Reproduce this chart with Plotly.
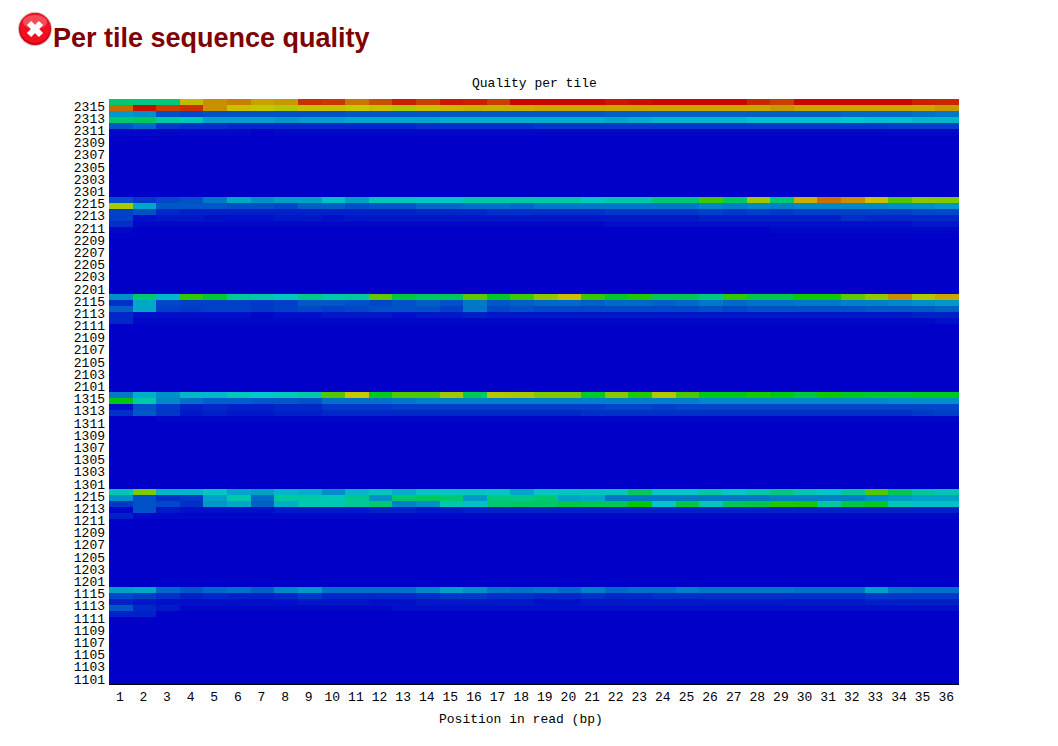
import plotly.graph_objects as go

POSITIONS = list(range(1, 37))
SURFACES = [11, 12, 13, 21, 22, 23]
SWATHS = list(range(1, 17))

T2316 = [36,34,35,77,82,84,80,81,94,93,85,90,96,92,97,96,92,99,99,99,99,97,98,99,99,99,99,95,92,99,99,99,99,99,96,95]
T2315 = [87,98,92,94,82,76,74,72,76,76,75,76,72,76,77,78,78,78,79,79,79,79,79,79,79,79,79,79,81,79,79,79,79,79,79,81]
T2314 = [19,18,10,9,10,10,10,10,10,10,11,11,11,11,11,11,11,11,11,11,11,12,12,12,12,12,12,12,12,12,12,13,13,13,14,15]
T2313 = [36,38,30,27,20,20,20,19,20,20,21,21,21,21,22,22,22,22,22,22,22,21,22,23,23,23,23,24,24,24,24,25,24,24,23,23]
T2312 = [11,13,7,6,6,5,5,5,5,5,5,5,5,6,6,6,6,6,7,7,7,7,7,7,7,7,7,7,7,7,7,7,7,8,8,8]
T2311 = [1,1,1,1,1,1,0,1,1,1,1,1,1,1,1,1,1,1,1,1,1,1,1,1,1,1,1,1,1,1,1,1,1,1,1,1]

T2216 = [10,7,9,10,15,21,18,20,20,24,20,27,27,25,25,30,30,30,30,30,26,29,29,36,36,58,38,70,36,78,86,82,76,60,67,66]
T2215 = [71,21,11,11,11,10,10,9,12,12,10,11,11,13,13,14,14,13,15,15,15,15,15,15,15,17,16,17,16,17,17,17,17,18,18,19]
T2214 = [8,10,5,4,4,4,4,4,4,4,4,4,4,5,5,5,6,6,6,6,6,7,7,7,7,8,7,8,7,8,8,8,8,8,9,9]
T2213 = [8,2,3,3,2,2,2,3,3,2,3,3,3,3,3,3,3,3,3,3,3,3,3,3,3,4,4,4,4,4,4,6,5,5,5,5]
T2212 = [6,1,1,1,1,1,1,1,1,1,1,1,1,1,1,1,1,1,1,1,1,2,2,2,2,2,2,2,2,2,2,2,2,2,3,3]
T2211 = [1,0,0,0,0,0,0,0,0,0,0,0,0,0,0,0,0,0,0,0,0,0,0,0,0,0,0,0,1,1,1,1,1,1,1,1]

T2116 = [18,36,23,56,44,31,29,26,33,29,31,62,42,38,39,62,45,58,68,76,57,45,54,40,40,34,56,41,41,52,52,62,68,82,72,79]
T2115 = [6,21,9,8,8,8,7,8,11,11,10,9,10,12,10,15,11,12,13,13,12,13,13,12,13,15,13,14,14,15,15,16,16,17,18,19]
T2114 = [12,21,8,7,8,8,7,8,9,8,9,10,10,10,8,15,9,10,9,9,9,9,9,9,9,10,9,10,10,10,10,10,11,11,11,12]
T2113 = [5,2,2,2,2,2,1,2,2,3,3,3,2,3,3,4,3,3,3,3,3,3,3,3,3,3,3,3,3,3,3,3,3,3,4,4]
T2112 = [5,1,1,1,1,1,1,1,1,1,1,1,1,1,1,1,1,1,1,1,1,1,1,1,1,1,1,1,1,1,1,1,1,1,1,2]

T1316 = [15,22,18,23,23,27,25,27,29,60,75,46,60,60,70,40,72,71,66,66,45,67,54,72,59,47,47,53,48,42,52,46,44,44,46,46]
T1315 = [48,29,17,14,12,12,11,11,10,14,14,14,15,16,16,16,16,16,16,16,16,16,16,16,16,17,17,17,17,17,17,17,17,18,18,18]
T1314 = [2,10,7,4,5,4,4,5,5,7,7,7,8,8,8,8,8,8,8,8,8,9,9,8,9,9,9,9,9,9,9,9,9,9,9,9]
T1313 = [6,11,7,3,4,3,3,4,4,5,5,5,5,5,5,5,5,5,5,5,6,6,6,6,6,6,6,6,6,6,6,6,6,6,7,8]
T1312 = [0,0,1,1,1,1,1,1,1,1,1,1,1,1,1,1,1,1,1,1,1,1,1,1,1,1,1,1,1,1,1,1,1,1,1,1]

T1216 = [28,66,23,23,26,21,20,23,22,18,23,27,22,26,26,27,26,21,26,27,27,26,38,25,25,30,25,29,34,28,25,31,60,40,31,28]
T1215 = [18,10,6,7,20,28,13,30,29,27,32,18,36,38,36,19,34,33,36,20,21,15,15,15,15,15,15,15,16,16,16,16,18,19,20,20]
T1214 = [7,10,9,6,19,21,12,22,28,28,31,36,16,18,28,24,36,38,37,42,40,40,50,25,42,27,40,42,54,53,30,42,46,28,24,24]
T1213 = [1,10,3,2,2,2,2,3,3,3,3,4,4,3,3,4,4,4,4,4,4,4,4,4,4,4,4,4,4,4,4,4,4,4,4,4]
T1212 = [4,1,1,1,1,1,1,1,1,1,1,1,1,1,1,1,1,1,1,1,1,1,1,1,1,1,1,1,1,1,1,1,1,1,1,1]

T1116 = [20,21,13,11,13,14,12,17,19,14,14,14,14,17,20,18,15,14,15,13,16,13,14,14,16,15,15,15,15,14,14,14,20,15,14,14]
T1115 = [9,8,6,4,5,4,4,5,7,5,5,5,5,6,7,7,6,6,5,5,6,5,5,6,6,6,6,6,6,6,6,6,7,7,7,7]
T1114 = [4,3,2,2,2,2,2,2,3,3,3,2,2,3,3,3,3,3,2,2,3,3,3,3,3,3,3,3,3,3,3,3,4,4,4,4]
T1113 = [11,5,3,1,1,1,1,1,1,1,1,1,2,2,2,2,2,2,2,2,2,2,2,2,2,2,2,2,2,2,2,2,2,2,2,2]
T1112 = [4,4,0,0,0,0,0,0,0,0,0,0,0,0,0,0,0,0,0,0,0,0,0,0,0,0,0,0,0,0,0,0,0,0,0,0]

MEASURED = {
    "2316": T2316, "2315": T2315, "2314": T2314, "2313": T2313, "2312": T2312, "2311": T2311,
    "2216": T2216, "2215": T2215, "2214": T2214, "2213": T2213, "2212": T2212, "2211": T2211,
    "2116": T2116, "2115": T2115, "2114": T2114, "2113": T2113, "2112": T2112,
    "1316": T1316, "1315": T1315, "1314": T1314, "1313": T1313, "1312": T1312,
    "1216": T1216, "1215": T1215, "1214": T1214, "1213": T1213, "1212": T1212,
    "1116": T1116, "1115": T1115, "1114": T1114, "1113": T1113, "1112": T1112,
}

tiles = [f"{s}{w:02d}" for s in SURFACES for w in SWATHS]
z = [MEASURED.get(t, [0] * len(POSITIONS)) for t in tiles]
tick_tiles = [t for t in tiles if int(t) % 2 == 1]

MONO = "Liberation Mono, monospace"
L, R, T, B = 109, 959, 99, 684
OFFSET = 8  # default page margin


def px(x):
    return (x - L) / (R - L)


def py(y):
    return (B - y) / (B - T)


fig = go.Figure(go.Heatmap(
    x=POSITIONS, y=tiles, z=z, zmin=0, zmax=100, showscale=False, xgap=0, ygap=0,
    colorscale=[[0, "rgb(0,0,200)"], [0.25, "rgb(0,200,200)"], [0.5, "rgb(0,200,0)"],
                [0.75, "rgb(200,200,0)"], [1, "rgb(200,0,0)"]],
))

shapes = []
for (cx, cy, r, fill) in [(35, 29, 17, "#d8b8b8"), (35, 29, 16, "#c80010"), (35, 28, 15, "#f21020")]:
    shapes.append(dict(type="circle", xref="paper", yref="paper", layer="above",
                       x0=px(cx - r), x1=px(cx + r), y0=py(cy + r), y1=py(cy - r),
                       fillcolor=fill, line=dict(width=0)))
shapes.append(dict(type="circle", xref="paper", yref="paper",
                   x0=px(23), x1=px(47), y0=py(29), y1=py(15),
                   fillcolor="rgba(255,255,255,0.25)", line=dict(width=0)))
for (a, b, c, d) in [(29, 23, 41, 35), (29, 35, 41, 23)]:
    shapes.append(dict(type="line", xref="paper", yref="paper",
                       x0=px(a), x1=px(c), y0=py(b), y1=py(d),
                       line=dict(color="white", width=6)))

fig.update_layout(
    width=1058 - 2 * OFFSET, height=746 - 2 * OFFSET,
    margin=dict(l=L - OFFSET, r=1058 - OFFSET - R, t=T - OFFSET, b=746 - OFFSET - B, pad=0),
    paper_bgcolor="white", plot_bgcolor="white",
    font=dict(family=MONO, size=13, color="black"),
    shapes=shapes,
    xaxis=dict(tickmode="array", tickvals=POSITIONS, ticktext=[str(p) for p in POSITIONS],
               range=[0.5, 36.5], automargin=False, ticks="", ticklabelshift=-1,
               showgrid=False, zeroline=False, showline=True, linecolor="black", linewidth=1,
               tickangle=0, tickfont=dict(family=MONO, size=13)),
    yaxis=dict(type="category", categoryorder="array", categoryarray=tiles, automargin=False,
               tickmode="array", tickvals=tick_tiles, ticktext=tick_tiles, ticks="",
               ticklabelstandoff=3, ticklabelshift=-2,
               showgrid=False, zeroline=False, showline=False,
               tickfont=dict(family=MONO, size=13)),
    annotations=[
        dict(text="Quality per tile", xref="paper", yref="paper", x=px(534), y=py(83),
             showarrow=False, xanchor="center", yanchor="middle",
             font=dict(family=MONO, size=13, color="black")),
        dict(text="Position in read (bp)", xref="paper", yref="paper", x=px(521), y=py(719),
             showarrow=False, xanchor="center", yanchor="middle",
             font=dict(family=MONO, size=13, color="black")),
        dict(text="<b>Per tile sequence quality</b>", xref="paper", yref="paper", x=px(51), y=py(38),
             showarrow=False, xanchor="left", yanchor="middle",
             font=dict(family="Liberation Sans, Arial, sans-serif", size=27, color="#800000")),
    ],
)

fig.write_html("out.html")
